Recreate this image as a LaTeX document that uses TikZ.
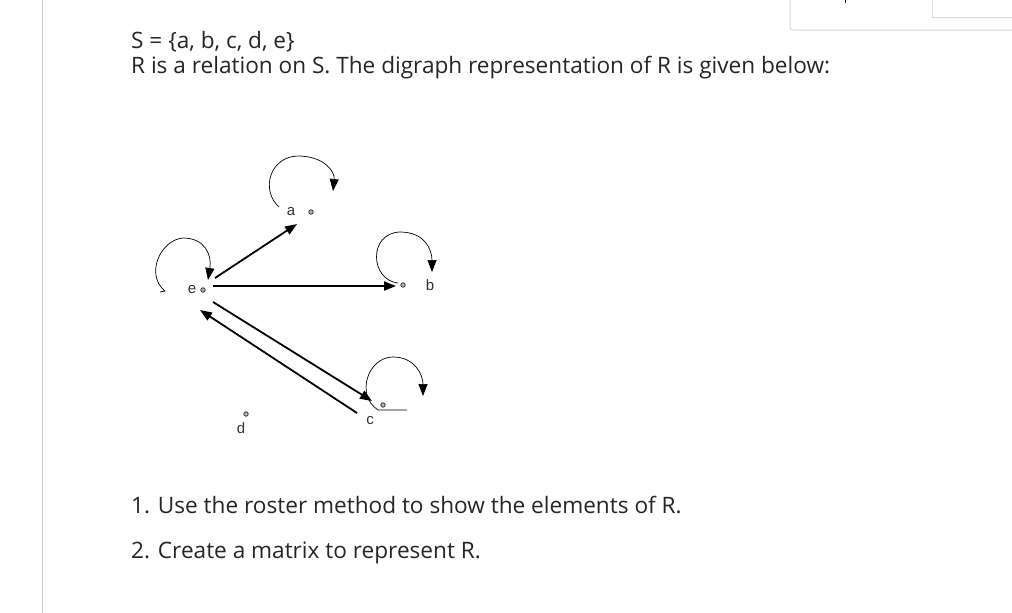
\documentclass[tikz,border=0pt]{standalone}
\usepackage{fontspec}
\setmainfont{Open Sans}
\newfontfamily\lblfont{Liberation Sans}
\usetikzlibrary{arrows.meta}
\begin{document}
\begin{tikzpicture}[x=1pt,y=-1pt,
  edge/.style={line width=1.8pt,-{Triangle[length=12pt,width=9pt]}},
  loopc/.style={line width=0.7pt,-{Triangle[length=12pt,width=9pt]}},
  vtx/.style={circle,draw=black!80,fill=black!30,line width=0.8pt,inner sep=0pt,minimum size=4.5pt},
  lbl/.style={font=\lblfont\fontsize{15}{15}\selectfont,inner sep=0pt,text=black!80},
  txt/.style={anchor=west,inner sep=0pt,font=\fontsize{22.6}{26}\selectfont,text=black!85}]
\useasboundingbox (0,0) rectangle (1012,613);
\fill[white] (0,0) rectangle (1012,613);
\draw[gray!40,line width=1pt] (42,0) -- (42,613);
\draw[gray!30,line width=1pt,rounded corners=3pt] (790,-5) -- (790,30) -- (1015,30);
\draw[gray!30,line width=1pt] (932,-5) -- (932,17) -- (1015,17);
\draw[black,line width=1pt] (845,0) -- (845,3);
\node[txt] (t1) at (131,42) {S = \{a, b, c, d, e\}};
\node[txt] (t2) at (131,68) {R is a relation on S. The digraph representation of R is given below:};
\node[txt] (t3) at (131,505) {1. Use the roster method to show the elements of R.};
\node[txt] (t4) at (131,553) {2. Create a matrix to represent R.};
\node[vtx] (a) at (311,212) {};
\node[vtx] (e) at (203,290) {};
\node[vtx] (b) at (403,285) {};
\node[vtx] (c) at (383,405) {};
\node[vtx] (d) at (246,414) {};
\node[lbl] (la) at (291,212) {a};
\node[lbl] (le) at (192,290) {e};
\node[lbl] (lb) at (430,285) {b};
\node[lbl] (lc) at (370,421) {c};
\node[lbl] (ld) at (241,428) {d};
\coordinate (ea) at (215,278); \coordinate (ae) at (297,224);
\coordinate (eb) at (213,286); \coordinate (be) at (396,286);
\coordinate (ec) at (213,302); \coordinate (ce) at (372,401);
\coordinate (c2) at (357,413); \coordinate (e2) at (200,310);
\draw[edge] (ea) -- (ae);
\draw[edge] (eb) -- (be);
\draw[edge] (ec) -- (ce);
\draw[edge] (c2) -- (e2);
\coordinate (as) at (279,207); \coordinate (at) at (333,191);
\draw[loopc] (as) .. controls (260,190) and (270,155) .. (300,156) .. controls (325,157) and (335,172) .. (at);
\coordinate (es) at (160,292); \coordinate (et) at (208,280);
\draw[loopc] (es) -- (165,291) .. controls (145,275) and (160,240) .. (183,238) .. controls (205,238) and (212,255) .. (et);
\coordinate (bs) at (398,283); \coordinate (bt) at (432,272);
\draw[loopc] (bs) .. controls (370,280) and (368,233) .. (400,232) .. controls (425,232) and (432,250) .. (bt);
\coordinate (cs) at (407,410); \coordinate (ct) at (423,396);
\draw[loopc] (cs) -- (378,410) .. controls (355,395) and (368,357) .. (393,357) .. controls (415,357) and (423,375) .. (ct);
\end{tikzpicture}
\end{document}
